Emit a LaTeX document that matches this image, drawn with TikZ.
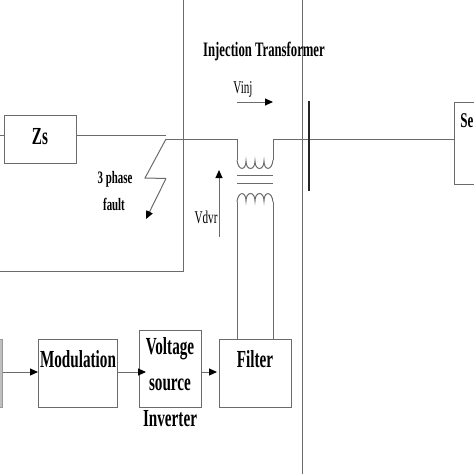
\documentclass[tikz,border=0pt]{standalone}
\usepackage{fontspec}
\setmainfont{Liberation Serif}
\newfontfamily\narrowbold[FakeStretch=0.62]{Liberation Serif Bold}
\newfontfamily\narrowreg[FakeStretch=0.62]{Liberation Serif}
\usetikzlibrary{arrows.meta}
\definecolor{linegray}{gray}{0.42}
\tikzset{
  wire/.style={draw=linegray,line width=1pt},
  blockbox/.style={draw=linegray,line width=1pt,fill=white,inner sep=0pt,anchor=north west},
  tip/.style={-{Triangle[length=8pt,width=7pt,color=black]},draw=linegray,line width=1pt},
  tiptext/.style={inner sep=0pt,text=black,align=center},
  bigtext/.style={tiptext,font=\narrowbold\fontsize{24.5}{24.5}\selectfont},
  midtext/.style={tiptext,font=\narrowbold\fontsize{17.5}{17.5}\selectfont},
  regtext/.style={tiptext,font=\narrowreg\fontsize{18}{18}\selectfont},
}
\begin{document}
\begin{tikzpicture}[x=1pt,y=-1pt]
\useasboundingbox (0,0) rectangle (474,474);
% frame lines
\coordinate (ft) at (183,0); \coordinate (fc) at (183,271); \coordinate (fl) at (0,271);
\draw[wire] (ft) -- (fc) -- (fl);
\coordinate (vt) at (302,0); \coordinate (vb) at (302,474);
\draw[wire] (vt) -- (vb);
% boxes
\node[blockbox,minimum width=72pt,minimum height=48pt] (zs) at (4,115) {};
\node[bigtext] (zst) at (40,137) {Zs};
\node[blockbox,minimum width=30pt,minimum height=82pt] (se) at (454,102) {};
\node[bigtext,font=\narrowbold\fontsize{21}{21}\selectfont,anchor=east] (set) at (473.5,121) {Se};
\node[blockbox,minimum width=79pt,minimum height=68.5pt] (mod) at (38,338.5) {};
\node[bigtext] (modt) at (78,359) {Modulation};
\node[blockbox,minimum width=62pt,minimum height=77pt] (vsi) at (139,330) {};
\node[bigtext] (vsi1) at (170,349) {Voltage};
\node[bigtext] (vsi2) at (170,385) {source};
\node[bigtext] (vsi3) at (170,419) {Inverter};
\node[blockbox,minimum width=72pt,minimum height=68.5pt] (fil) at (219,338.5) {};
\node[bigtext] (filt) at (255,359) {Filter};
\node[draw=black!40,fill=black!25,line width=1pt,inner sep=0pt,minimum width=12pt,minimum height=68.5pt,anchor=north east] (lb) at (2.5,338.5) {};
% arrows between blocks
\coordinate (a0) at (2.5,372); \coordinate (a1) at (38,372);
\coordinate (a2) at (117,372); \coordinate (a3) at (146,372);
\coordinate (a4) at (201,372); \coordinate (a5) at (217,372);
\draw[tip] (a0) -- (a1);
\draw[tip] (a2) -- (a3);
\draw[tip] (a4) -- (a5);
% main line
\coordinate (s0) at (0,135); \coordinate (s1) at (4,135);
\draw[wire] (s0) -- (s1);
\coordinate (f0) at (166,135); \coordinate (f1) at (166,139);
\draw[wire] (76,135) -- (f0);
\coordinate (t1) at (237,139); \coordinate (t2) at (237,160);
\coordinate (t3) at (273,160); \coordinate (t4) at (273,139);
\coordinate (se0) at (454,139);
\draw[wire] (f1) -- (t1) -- (t2);
\draw[wire] (t3) -- (t4) -- (se0);
% primary coil
\draw[wire] (t2) .. controls (238,171) and (246,171) .. (246,161)
  .. controls (246,171) and (255,171) .. (255,161)
  .. controls (255,171) and (264,171) .. (264,161)
  .. controls (264,171) and (272,171) .. (t3);
% core
\coordinate (c1) at (237,175.7); \coordinate (c2) at (273,175.7);
\coordinate (c3) at (237,183); \coordinate (c4) at (273,183);
\draw[wire] (c1) -- (c2);
\draw[wire] (c3) -- (c4);
% secondary coil
\coordinate (u1) at (237,202); \coordinate (u2) at (273,202);
\draw[wire] (u1) .. controls (238,191) and (246,191) .. (246,201)
  .. controls (246,191) and (255,191) .. (255,201)
  .. controls (255,191) and (264,191) .. (264,201)
  .. controls (264,191) and (272,191) .. (u2);
\coordinate (fi1) at (237,338.5); \coordinate (fi2) at (273,338.5);
\draw[wire] (u1) -- (fi1);
\draw[wire] (u2) -- (fi2);
% bus bar
\coordinate (b1) at (309,100.7); \coordinate (b2) at (309,190.7);
\draw[draw=black!85,line width=1.9pt] (b1) -- (b2);
% fault
\coordinate (g1) at (145,178); \coordinate (g2) at (166,178.5); \coordinate (g3) at (146,219);
\draw[wire] (f1) -- (g1) -- (g2);
\draw[tip] (g2) -- (g3);
% voltage arrows
\coordinate (vi1) at (237,102); \coordinate (vi2) at (273,102);
\draw[tip] (vi1) -- (vi2);
\coordinate (vd1) at (219,237); \coordinate (vd2) at (219,170);
\draw[tip] (vd1) -- (vd2);
% labels
\node[midtext,font=\narrowbold\fontsize{20.5}{20.5}\selectfont] (inj) at (264,51) {Injection Transformer};
\node[regtext] (vinj) at (243,89) {Vinj};
\node[regtext] (vdvr) at (206,217) {Vdvr};
\node[midtext] (ph) at (115,179) {3 phase};
\node[midtext] (fa) at (114,204) {fault};
\end{tikzpicture}
\end{document}
